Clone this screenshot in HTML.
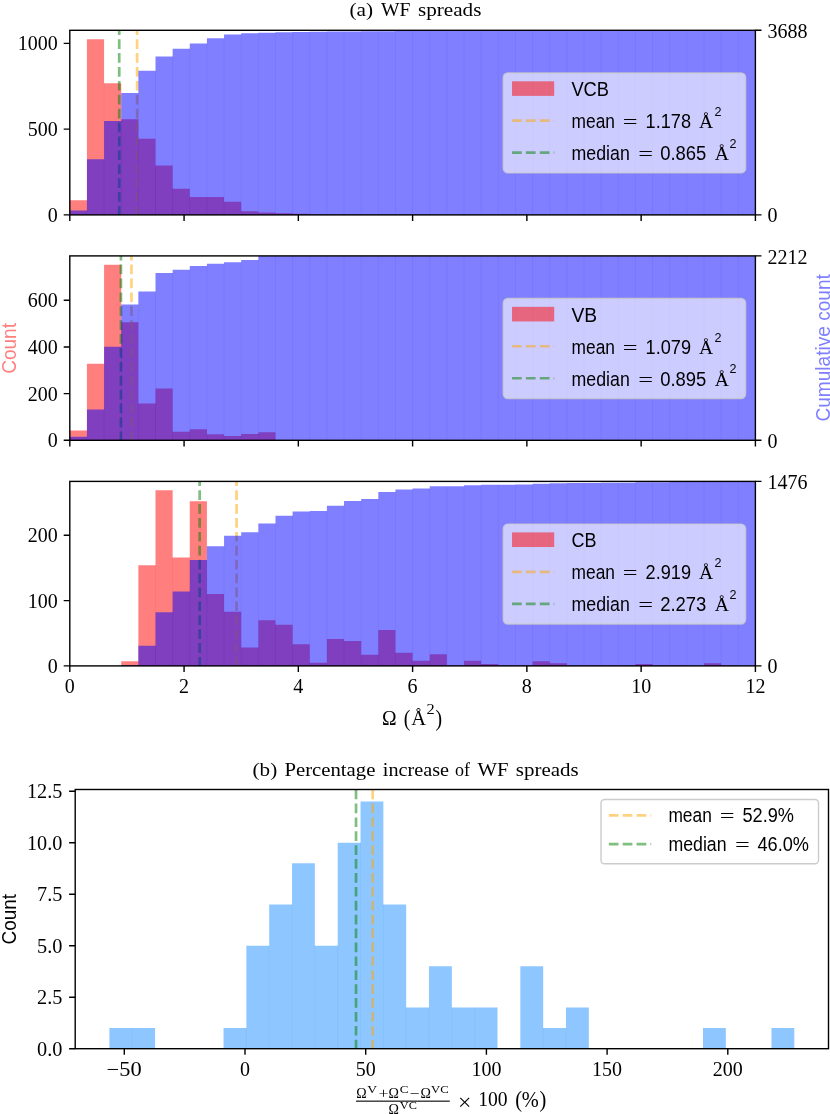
<!DOCTYPE html>
<html lang="en"><head><meta charset="utf-8"><title>WF spreads</title>
<style>html,body{margin:0;padding:0;background:#fff;}body{width:830px;height:1114px;overflow:hidden;}svg{display:block;}</style>
</head><body>
<svg width="830" height="1114" viewBox="0 0 830 1114">
<rect width="830" height="1114" fill="#fff"/>
<g>
<path d="M69.8 214.9V200.15H86.94V39.22H104.08V83.14H121.22V119.34H138.36V138.73H155.5V165.49H172.64V188.65H189.78V197.06H206.92V197.06H224.06V201.69H241.2V211.13H258.34V212.5H275.48V213.36H292.62V213.87H309.76V214.21H326.9V214.39H344.04V214.39H361.18V214.56H378.32V214.56H395.46V214.56H412.6V214.56H429.74V214.73H446.88V214.73H464.02V214.73H481.16V214.73H498.3V214.73H515.44V214.73H532.58V214.73H549.72V214.73H566.86V214.73H584V214.73H601.14V214.73H618.28V214.73H635.42V214.9H652.56V214.73H669.7V214.9H686.84V214.9H703.98V214.73H721.12V214.9H738.26V214.9H755.4V214.9Z" fill="#f00" fill-opacity="0.5"/>
<path d="M86.94 214.9V200.15M104.08 214.9V83.14M121.22 214.9V119.34M138.36 214.9V138.73M155.5 214.9V165.49M172.64 214.9V188.65M189.78 214.9V197.06M206.92 214.9V197.06M224.06 214.9V201.69M241.2 214.9V211.13M258.34 214.9V212.5M275.48 214.9V213.36M292.62 214.9V213.87M309.76 214.9V214.21M326.9 214.9V214.39M344.04 214.9V214.39M361.18 214.9V214.56M378.32 214.9V214.56M395.46 214.9V214.56M412.6 214.9V214.56M429.74 214.9V214.73M446.88 214.9V214.73M464.02 214.9V214.73M481.16 214.9V214.73M498.3 214.9V214.73M515.44 214.9V214.73M532.58 214.9V214.73M549.72 214.9V214.73M566.86 214.9V214.73M584 214.9V214.73M601.14 214.9V214.73M618.28 214.9V214.73" stroke="#c00" stroke-opacity="0.06" stroke-width="1" fill="none"/>
<line x1="137.1" y1="214.9" x2="137.1" y2="30.3" stroke="#ffa500" stroke-opacity="0.5" stroke-width="2.7" stroke-dasharray="9.7 4.2" stroke-dashoffset="0.8"/>
<line x1="119.22" y1="214.9" x2="119.22" y2="30.3" stroke="#008000" stroke-opacity="0.5" stroke-width="2.7" stroke-dasharray="9.7 4.2" stroke-dashoffset="0.8"/>
<path d="M69.8 214.9V210.6H86.94V159.34H104.08V120.9H121.22V93.02H138.36V70.79H155.5V56.38H172.64V48.72H189.78V43.51H206.92V38.31H224.06V34.45H241.2V33.35H258.34V32.65H275.48V32.2H292.62V31.9H309.76V31.7H326.9V31.55H344.04V31.4H361.18V31.3H378.32V31.2H395.46V31.1H412.6V31H429.74V30.95H446.88V30.9H464.02V30.85H481.16V30.8H498.3V30.75H515.44V30.7H532.58V30.65H549.72V30.6H566.86V30.55H584V30.5H601.14V30.45H618.28V30.4H635.42V30.4H652.56V30.35H669.7V30.35H686.84V30.35H703.98V30.3H721.12V30.3H738.26V30.3H755.4V214.9Z" fill="#00f" fill-opacity="0.5"/>
<path d="M86.94 214.9V210.6M104.08 214.9V159.34M121.22 214.9V120.9M138.36 214.9V93.02M155.5 214.9V70.79M172.64 214.9V56.38M189.78 214.9V48.72M206.92 214.9V43.51M224.06 214.9V38.31M241.2 214.9V34.45M258.34 214.9V33.35M275.48 214.9V32.65M292.62 214.9V32.2M309.76 214.9V31.9M326.9 214.9V31.7M344.04 214.9V31.55M361.18 214.9V31.4M378.32 214.9V31.3M395.46 214.9V31.2M412.6 214.9V31.1M429.74 214.9V31M446.88 214.9V30.95M464.02 214.9V30.9M481.16 214.9V30.85M498.3 214.9V30.8M515.44 214.9V30.75M532.58 214.9V30.7M549.72 214.9V30.65M566.86 214.9V30.6M584 214.9V30.55M601.14 214.9V30.5M618.28 214.9V30.45M635.42 214.9V30.4M652.56 214.9V30.4M669.7 214.9V30.35M686.84 214.9V30.35M703.98 214.9V30.35M721.12 214.9V30.3M738.26 214.9V30.3" stroke="#00c" stroke-opacity="0.06" stroke-width="1" fill="none"/>
<rect x="69.8" y="30.3" width="685.6" height="184.6" fill="none" stroke="#000" stroke-width="1.4"/>
<path d="M69.8 214.9v6.1M184.07 214.9v6.1M298.33 214.9v6.1M412.6 214.9v6.1M526.87 214.9v6.1M641.13 214.9v6.1M755.4 214.9v6.1M69.8 214.9h-6.1M69.8 129.12h-6.1M69.8 43.34h-6.1M755.4 214.9h6.1M755.4 30.3h6.1" stroke="#000" stroke-width="1.4" fill="none"/>
<text x="57.7" y="222" font-family='"Liberation Serif", "DejaVu Serif", serif' font-size="20" text-anchor="end" textLength="10" lengthAdjust="spacingAndGlyphs">0</text>
<text x="57.7" y="136.22" font-family='"Liberation Serif", "DejaVu Serif", serif' font-size="20" text-anchor="end" textLength="30" lengthAdjust="spacingAndGlyphs">500</text>
<text x="57.7" y="50.44" font-family='"Liberation Serif", "DejaVu Serif", serif' font-size="20" text-anchor="end" textLength="40" lengthAdjust="spacingAndGlyphs">1000</text>
<text x="767.4" y="38.1" font-family='"Liberation Serif", "DejaVu Serif", serif' font-size="20" textLength="40" lengthAdjust="spacingAndGlyphs">3688</text>
<text x="767.4" y="222.2" font-family='"Liberation Serif", "DejaVu Serif", serif' font-size="20" textLength="10" lengthAdjust="spacingAndGlyphs">0</text>
<rect x="503.3" y="73" width="242.3" height="99.9" rx="4.5" ry="4.5" fill="#fff" fill-opacity="0.6" stroke="#ccc" stroke-opacity="0.8" stroke-width="1.4"/>
<rect x="512" y="81.3" width="42.2" height="14.6" fill="#f00" fill-opacity="0.5"/>
<line x1="512" y1="120.7" x2="554.2" y2="120.7" stroke="#ffa500" stroke-opacity="0.5" stroke-width="2.7" stroke-dasharray="9.7 4.2"/>
<line x1="512" y1="152.7" x2="554.2" y2="152.7" stroke="#008000" stroke-opacity="0.5" stroke-width="2.7" stroke-dasharray="9.7 4.2"/>
<text x="571.4" y="96" font-family='"Liberation Sans", "DejaVu Sans", sans-serif' font-size="19.3" textLength="37.6" lengthAdjust="spacingAndGlyphs">VCB</text>
<text x="571.6" y="128.2" font-family='"Liberation Sans", "DejaVu Sans", sans-serif' font-size="19.3" textLength="43.4" lengthAdjust="spacingAndGlyphs">mean</text>
<text x="622.8" y="128.2" font-family='"Liberation Serif", "DejaVu Serif", serif' font-size="19.4" textLength="14.8" lengthAdjust="spacingAndGlyphs">=</text>
<text x="645.6" y="128.2" font-family='"Liberation Sans", "DejaVu Sans", sans-serif' font-size="19.3" textLength="45.4" lengthAdjust="spacingAndGlyphs">1.178</text>
<text x="699" y="128.2" font-family='"Liberation Serif", "DejaVu Serif", serif' font-size="19.4" textLength="14.2" lengthAdjust="spacingAndGlyphs">Å</text>
<text x="714.4" y="116" font-family='"Liberation Sans", "DejaVu Sans", sans-serif' font-size="13.2" textLength="7" lengthAdjust="spacingAndGlyphs">2</text>
<text x="571.6" y="160" font-family='"Liberation Sans", "DejaVu Sans", sans-serif' font-size="19.3" textLength="58.2" lengthAdjust="spacingAndGlyphs">median</text>
<text x="638.2" y="160" font-family='"Liberation Serif", "DejaVu Serif", serif' font-size="19.4" textLength="14.8" lengthAdjust="spacingAndGlyphs">=</text>
<text x="660.2" y="160" font-family='"Liberation Sans", "DejaVu Sans", sans-serif' font-size="19.3" textLength="46.2" lengthAdjust="spacingAndGlyphs">0.865</text>
<text x="714.8" y="160" font-family='"Liberation Serif", "DejaVu Serif", serif' font-size="19.4" textLength="14.2" lengthAdjust="spacingAndGlyphs">Å</text>
<text x="729.4" y="147.8" font-family='"Liberation Sans", "DejaVu Sans", sans-serif' font-size="13.2" textLength="7" lengthAdjust="spacingAndGlyphs">2</text>
</g>
<g>
<path d="M69.8 440.3V430.5H86.94V363.74H104.08V264.77H121.22V322.19H138.36V403.42H155.5V388.48H172.64V431.66H189.78V429.33H206.92V434.23H224.06V436.1H241.2V434H258.34V432.13H275.48V440.3H292.62V440.3H309.76V440.3H326.9V440.3H344.04V440.3H361.18V440.3H378.32V440.3H395.46V440.3H412.6V440.3H429.74V440.3H446.88V440.3H464.02V440.3H481.16V440.3H498.3V440.3H515.44V440.3H532.58V440.3H549.72V440.3H566.86V440.3H584V440.3H601.14V440.3H618.28V440.3H635.42V440.3H652.56V440.3H669.7V440.3H686.84V440.3H703.98V440.3H721.12V440.3H738.26V440.3H755.4V440.3Z" fill="#f00" fill-opacity="0.5"/>
<path d="M86.94 440.3V430.5M104.08 440.3V363.74M121.22 440.3V322.19M138.36 440.3V403.42M155.5 440.3V403.42M172.64 440.3V431.66M189.78 440.3V431.66M206.92 440.3V434.23M224.06 440.3V436.1M241.2 440.3V436.1M258.34 440.3V434" stroke="#c00" stroke-opacity="0.06" stroke-width="1" fill="none"/>
<line x1="131.45" y1="440.3" x2="131.45" y2="255.9" stroke="#ffa500" stroke-opacity="0.5" stroke-width="2.7" stroke-dasharray="9.7 4.2" stroke-dashoffset="0.8"/>
<line x1="120.93" y1="440.3" x2="120.93" y2="255.9" stroke="#008000" stroke-opacity="0.5" stroke-width="2.7" stroke-dasharray="9.7 4.2" stroke-dashoffset="0.8"/>
<path d="M69.8 440.3V436.8H86.94V409.46H104.08V346.77H121.22V304.58H138.36V291.41H155.5V272.91H172.64V269.82H189.78V265.9H206.92V263.74H224.06V262.24H241.2V259.98H258.34V255.9H275.48V255.9H292.62V255.9H309.76V255.9H326.9V255.9H344.04V255.9H361.18V255.9H378.32V255.9H395.46V255.9H412.6V255.9H429.74V255.9H446.88V255.9H464.02V255.9H481.16V255.9H498.3V255.9H515.44V255.9H532.58V255.9H549.72V255.9H566.86V255.9H584V255.9H601.14V255.9H618.28V255.9H635.42V255.9H652.56V255.9H669.7V255.9H686.84V255.9H703.98V255.9H721.12V255.9H738.26V255.9H755.4V440.3Z" fill="#00f" fill-opacity="0.5"/>
<path d="M86.94 440.3V436.8M104.08 440.3V409.46M121.22 440.3V346.77M138.36 440.3V304.58M155.5 440.3V291.41M172.64 440.3V272.91M189.78 440.3V269.82M206.92 440.3V265.9M224.06 440.3V263.74M241.2 440.3V262.24M258.34 440.3V259.98M275.48 440.3V255.9M292.62 440.3V255.9M309.76 440.3V255.9M326.9 440.3V255.9M344.04 440.3V255.9M361.18 440.3V255.9M378.32 440.3V255.9M395.46 440.3V255.9M412.6 440.3V255.9M429.74 440.3V255.9M446.88 440.3V255.9M464.02 440.3V255.9M481.16 440.3V255.9M498.3 440.3V255.9M515.44 440.3V255.9M532.58 440.3V255.9M549.72 440.3V255.9M566.86 440.3V255.9M584 440.3V255.9M601.14 440.3V255.9M618.28 440.3V255.9M635.42 440.3V255.9M652.56 440.3V255.9M669.7 440.3V255.9M686.84 440.3V255.9M703.98 440.3V255.9M721.12 440.3V255.9M738.26 440.3V255.9" stroke="#00c" stroke-opacity="0.06" stroke-width="1" fill="none"/>
<rect x="69.8" y="255.9" width="685.6" height="184.4" fill="none" stroke="#000" stroke-width="1.4"/>
<path d="M69.8 440.3v6.1M184.07 440.3v6.1M298.33 440.3v6.1M412.6 440.3v6.1M526.87 440.3v6.1M641.13 440.3v6.1M755.4 440.3v6.1M69.8 440.3h-6.1M69.8 393.62h-6.1M69.8 346.93h-6.1M69.8 300.25h-6.1M755.4 440.3h6.1M755.4 255.9h6.1" stroke="#000" stroke-width="1.4" fill="none"/>
<text x="57.7" y="447.4" font-family='"Liberation Serif", "DejaVu Serif", serif' font-size="20" text-anchor="end" textLength="10" lengthAdjust="spacingAndGlyphs">0</text>
<text x="57.7" y="400.72" font-family='"Liberation Serif", "DejaVu Serif", serif' font-size="20" text-anchor="end" textLength="30" lengthAdjust="spacingAndGlyphs">200</text>
<text x="57.7" y="354.03" font-family='"Liberation Serif", "DejaVu Serif", serif' font-size="20" text-anchor="end" textLength="30" lengthAdjust="spacingAndGlyphs">400</text>
<text x="57.7" y="307.35" font-family='"Liberation Serif", "DejaVu Serif", serif' font-size="20" text-anchor="end" textLength="30" lengthAdjust="spacingAndGlyphs">600</text>
<text x="767.4" y="263.7" font-family='"Liberation Serif", "DejaVu Serif", serif' font-size="20" textLength="40" lengthAdjust="spacingAndGlyphs">2212</text>
<text x="767.4" y="447.6" font-family='"Liberation Serif", "DejaVu Serif", serif' font-size="20" textLength="10" lengthAdjust="spacingAndGlyphs">0</text>
<rect x="503.3" y="298.55" width="242.3" height="99.9" rx="4.5" ry="4.5" fill="#fff" fill-opacity="0.6" stroke="#ccc" stroke-opacity="0.8" stroke-width="1.4"/>
<rect x="512" y="306.85" width="42.2" height="14.6" fill="#f00" fill-opacity="0.5"/>
<line x1="512" y1="346.25" x2="554.2" y2="346.25" stroke="#ffa500" stroke-opacity="0.5" stroke-width="2.7" stroke-dasharray="9.7 4.2"/>
<line x1="512" y1="378.25" x2="554.2" y2="378.25" stroke="#008000" stroke-opacity="0.5" stroke-width="2.7" stroke-dasharray="9.7 4.2"/>
<text x="571.4" y="321.55" font-family='"Liberation Sans", "DejaVu Sans", sans-serif' font-size="19.3" textLength="25.6" lengthAdjust="spacingAndGlyphs">VB</text>
<text x="571.6" y="353.75" font-family='"Liberation Sans", "DejaVu Sans", sans-serif' font-size="19.3" textLength="43.4" lengthAdjust="spacingAndGlyphs">mean</text>
<text x="622.8" y="353.75" font-family='"Liberation Serif", "DejaVu Serif", serif' font-size="19.4" textLength="14.8" lengthAdjust="spacingAndGlyphs">=</text>
<text x="645.6" y="353.75" font-family='"Liberation Sans", "DejaVu Sans", sans-serif' font-size="19.3" textLength="45.4" lengthAdjust="spacingAndGlyphs">1.079</text>
<text x="699" y="353.75" font-family='"Liberation Serif", "DejaVu Serif", serif' font-size="19.4" textLength="14.2" lengthAdjust="spacingAndGlyphs">Å</text>
<text x="714.4" y="341.55" font-family='"Liberation Sans", "DejaVu Sans", sans-serif' font-size="13.2" textLength="7" lengthAdjust="spacingAndGlyphs">2</text>
<text x="571.6" y="385.55" font-family='"Liberation Sans", "DejaVu Sans", sans-serif' font-size="19.3" textLength="58.2" lengthAdjust="spacingAndGlyphs">median</text>
<text x="638.2" y="385.55" font-family='"Liberation Serif", "DejaVu Serif", serif' font-size="19.4" textLength="14.8" lengthAdjust="spacingAndGlyphs">=</text>
<text x="660.2" y="385.55" font-family='"Liberation Sans", "DejaVu Sans", sans-serif' font-size="19.3" textLength="46.2" lengthAdjust="spacingAndGlyphs">0.895</text>
<text x="714.8" y="385.55" font-family='"Liberation Serif", "DejaVu Serif", serif' font-size="19.4" textLength="14.2" lengthAdjust="spacingAndGlyphs">Å</text>
<text x="729.4" y="373.35" font-family='"Liberation Sans", "DejaVu Sans", sans-serif' font-size="13.2" textLength="7" lengthAdjust="spacingAndGlyphs">2</text>
</g>
<g>
<path d="M69.8 665.9V665.9H86.94V665.9H104.08V665.9H121.22V661.33H138.36V565.32H155.5V490.22H172.64V557.49H189.78V501.32H206.92V594.06H224.06V611.69H241.2V647.61H258.34V620.18H275.48V624.75H292.62V644.35H309.76V662.63H326.9V639.12H344.04V641.08H361.18V654.8H378.32V629.98H395.46V652.84H412.6V660.68H429.74V654.14H446.88V665.25H464.02V660.68H481.16V663.94H498.3V665.25H515.44V665.25H532.58V661.33H549.72V663.29H566.86V665.25H584V665.25H601.14V665.25H618.28V665.25H635.42V663.94H652.56V665.25H669.7V665.25H686.84V665.9H703.98V663.29H721.12V665.25H738.26V665.9H755.4V665.9Z" fill="#f00" fill-opacity="0.5"/>
<path d="M138.36 665.9V661.33M155.5 665.9V565.32M172.64 665.9V557.49M189.78 665.9V557.49M206.92 665.9V594.06M224.06 665.9V611.69M241.2 665.9V647.61M258.34 665.9V647.61M275.48 665.9V624.75M292.62 665.9V644.35M309.76 665.9V662.63M326.9 665.9V662.63M344.04 665.9V641.08M361.18 665.9V654.8M378.32 665.9V654.8M395.46 665.9V652.84M412.6 665.9V660.68M429.74 665.9V660.68M446.88 665.9V665.25M464.02 665.9V665.25M481.16 665.9V663.94M498.3 665.9V665.25M515.44 665.9V665.25M532.58 665.9V665.25M549.72 665.9V663.29M566.86 665.9V665.25M584 665.9V665.25M601.14 665.9V665.25M618.28 665.9V665.25M635.42 665.9V665.25M652.56 665.9V665.25M669.7 665.9V665.25M721.12 665.9V665.25" stroke="#c00" stroke-opacity="0.06" stroke-width="1" fill="none"/>
<line x1="236.57" y1="665.9" x2="236.57" y2="481.4" stroke="#ffa500" stroke-opacity="0.5" stroke-width="2.7" stroke-dasharray="9.7 4.2" stroke-dashoffset="0.8"/>
<line x1="199.66" y1="665.9" x2="199.66" y2="481.4" stroke="#008000" stroke-opacity="0.5" stroke-width="2.7" stroke-dasharray="9.7 4.2" stroke-dashoffset="0.8"/>
<path d="M69.8 665.9V665.9H86.94V665.9H104.08V665.9H121.22V665.02H138.36V645.77H155.5V612.15H172.64V591.4H189.78V559.9H206.92V546.15H224.06V535.77H241.2V532.27H258.34V523.52H275.48V515.65H292.62V511.52H309.76V510.9H326.9V505.77H344.04V501.02H361.18V498.9H378.32V492.02H395.46V489.52H412.6V488.52H429.74V486.27H446.88V486.15H464.02V485.15H481.16V484.77H498.3V484.65H515.44V484.52H532.58V483.65H549.72V483.15H566.86V483.02H584V482.9H601.14V482.77H618.28V482.65H635.42V482.27H652.56V482.15H669.7V482.02H686.84V482.02H703.98V481.52H721.12V481.4H738.26V481.4H755.4V665.9Z" fill="#00f" fill-opacity="0.5"/>
<path d="M138.36 665.9V665.02M155.5 665.9V645.77M172.64 665.9V612.15M189.78 665.9V591.4M206.92 665.9V559.9M224.06 665.9V546.15M241.2 665.9V535.77M258.34 665.9V532.27M275.48 665.9V523.52M292.62 665.9V515.65M309.76 665.9V511.52M326.9 665.9V510.9M344.04 665.9V505.77M361.18 665.9V501.02M378.32 665.9V498.9M395.46 665.9V492.02M412.6 665.9V489.52M429.74 665.9V488.52M446.88 665.9V486.27M464.02 665.9V486.15M481.16 665.9V485.15M498.3 665.9V484.77M515.44 665.9V484.65M532.58 665.9V484.52M549.72 665.9V483.65M566.86 665.9V483.15M584 665.9V483.02M601.14 665.9V482.9M618.28 665.9V482.77M635.42 665.9V482.65M652.56 665.9V482.27M669.7 665.9V482.15M686.84 665.9V482.02M703.98 665.9V482.02M721.12 665.9V481.52M738.26 665.9V481.4" stroke="#00c" stroke-opacity="0.06" stroke-width="1" fill="none"/>
<rect x="69.8" y="481.4" width="685.6" height="184.5" fill="none" stroke="#000" stroke-width="1.4"/>
<path d="M69.8 665.9v6.1M184.07 665.9v6.1M298.33 665.9v6.1M412.6 665.9v6.1M526.87 665.9v6.1M641.13 665.9v6.1M755.4 665.9v6.1M69.8 665.9h-6.1M69.8 600.59h-6.1M69.8 535.28h-6.1M755.4 665.9h6.1M755.4 481.4h6.1" stroke="#000" stroke-width="1.4" fill="none"/>
<text x="57.7" y="673" font-family='"Liberation Serif", "DejaVu Serif", serif' font-size="20" text-anchor="end" textLength="10" lengthAdjust="spacingAndGlyphs">0</text>
<text x="57.7" y="607.69" font-family='"Liberation Serif", "DejaVu Serif", serif' font-size="20" text-anchor="end" textLength="30" lengthAdjust="spacingAndGlyphs">100</text>
<text x="57.7" y="542.38" font-family='"Liberation Serif", "DejaVu Serif", serif' font-size="20" text-anchor="end" textLength="30" lengthAdjust="spacingAndGlyphs">200</text>
<text x="767.4" y="489.2" font-family='"Liberation Serif", "DejaVu Serif", serif' font-size="20" textLength="40" lengthAdjust="spacingAndGlyphs">1476</text>
<text x="767.4" y="673.2" font-family='"Liberation Serif", "DejaVu Serif", serif' font-size="20" textLength="10" lengthAdjust="spacingAndGlyphs">0</text>
<rect x="503.3" y="524.1" width="242.3" height="99.9" rx="4.5" ry="4.5" fill="#fff" fill-opacity="0.6" stroke="#ccc" stroke-opacity="0.8" stroke-width="1.4"/>
<rect x="512" y="532.4" width="42.2" height="14.6" fill="#f00" fill-opacity="0.5"/>
<line x1="512" y1="571.8" x2="554.2" y2="571.8" stroke="#ffa500" stroke-opacity="0.5" stroke-width="2.7" stroke-dasharray="9.7 4.2"/>
<line x1="512" y1="603.8" x2="554.2" y2="603.8" stroke="#008000" stroke-opacity="0.5" stroke-width="2.7" stroke-dasharray="9.7 4.2"/>
<text x="571.4" y="547.1" font-family='"Liberation Sans", "DejaVu Sans", sans-serif' font-size="19.3" textLength="25" lengthAdjust="spacingAndGlyphs">CB</text>
<text x="571.6" y="579.3" font-family='"Liberation Sans", "DejaVu Sans", sans-serif' font-size="19.3" textLength="43.4" lengthAdjust="spacingAndGlyphs">mean</text>
<text x="622.8" y="579.3" font-family='"Liberation Serif", "DejaVu Serif", serif' font-size="19.4" textLength="14.8" lengthAdjust="spacingAndGlyphs">=</text>
<text x="645.6" y="579.3" font-family='"Liberation Sans", "DejaVu Sans", sans-serif' font-size="19.3" textLength="45.4" lengthAdjust="spacingAndGlyphs">2.919</text>
<text x="699" y="579.3" font-family='"Liberation Serif", "DejaVu Serif", serif' font-size="19.4" textLength="14.2" lengthAdjust="spacingAndGlyphs">Å</text>
<text x="714.4" y="567.1" font-family='"Liberation Sans", "DejaVu Sans", sans-serif' font-size="13.2" textLength="7" lengthAdjust="spacingAndGlyphs">2</text>
<text x="571.6" y="611.1" font-family='"Liberation Sans", "DejaVu Sans", sans-serif' font-size="19.3" textLength="58.2" lengthAdjust="spacingAndGlyphs">median</text>
<text x="638.2" y="611.1" font-family='"Liberation Serif", "DejaVu Serif", serif' font-size="19.4" textLength="14.8" lengthAdjust="spacingAndGlyphs">=</text>
<text x="660.2" y="611.1" font-family='"Liberation Sans", "DejaVu Sans", sans-serif' font-size="19.3" textLength="46.2" lengthAdjust="spacingAndGlyphs">2.273</text>
<text x="714.8" y="611.1" font-family='"Liberation Serif", "DejaVu Serif", serif' font-size="19.4" textLength="14.2" lengthAdjust="spacingAndGlyphs">Å</text>
<text x="729.4" y="598.9" font-family='"Liberation Sans", "DejaVu Sans", sans-serif' font-size="13.2" textLength="7" lengthAdjust="spacingAndGlyphs">2</text>
</g>
<text x="69.8" y="693.1" font-family='"Liberation Serif", "DejaVu Serif", serif' font-size="20" text-anchor="middle" textLength="10" lengthAdjust="spacingAndGlyphs">0</text>
<text x="184.07" y="693.1" font-family='"Liberation Serif", "DejaVu Serif", serif' font-size="20" text-anchor="middle" textLength="10" lengthAdjust="spacingAndGlyphs">2</text>
<text x="298.33" y="693.1" font-family='"Liberation Serif", "DejaVu Serif", serif' font-size="20" text-anchor="middle" textLength="10" lengthAdjust="spacingAndGlyphs">4</text>
<text x="412.6" y="693.1" font-family='"Liberation Serif", "DejaVu Serif", serif' font-size="20" text-anchor="middle" textLength="10" lengthAdjust="spacingAndGlyphs">6</text>
<text x="526.87" y="693.1" font-family='"Liberation Serif", "DejaVu Serif", serif' font-size="20" text-anchor="middle" textLength="10" lengthAdjust="spacingAndGlyphs">8</text>
<text x="641.13" y="693.1" font-family='"Liberation Serif", "DejaVu Serif", serif' font-size="20" text-anchor="middle" textLength="20" lengthAdjust="spacingAndGlyphs">10</text>
<text x="755.4" y="693.1" font-family='"Liberation Serif", "DejaVu Serif", serif' font-size="20" text-anchor="middle" textLength="20" lengthAdjust="spacingAndGlyphs">12</text>
<text x="382" y="725.2" font-family='"Liberation Serif", "DejaVu Serif", serif' font-size="20.6" textLength="14.6" lengthAdjust="spacingAndGlyphs">Ω</text>
<text x="403.8" y="726.3" font-family='"Liberation Serif", "DejaVu Serif", serif' font-size="23.0" textLength="6.6" lengthAdjust="spacingAndGlyphs">(</text>
<text x="411.3" y="725.2" font-family='"Liberation Serif", "DejaVu Serif", serif' font-size="20.2" textLength="14.8" lengthAdjust="spacingAndGlyphs">Å</text>
<text x="426.6" y="713.6" font-family='"Liberation Serif", "DejaVu Serif", serif' font-size="13.6" textLength="8.2" lengthAdjust="spacingAndGlyphs">2</text>
<text x="435.6" y="726.3" font-family='"Liberation Serif", "DejaVu Serif", serif' font-size="23.0" textLength="6.6" lengthAdjust="spacingAndGlyphs">)</text>
<text x="349.4" y="15.8" font-family='"Liberation Serif", "DejaVu Serif", serif' font-size="19.8" textLength="23.6" lengthAdjust="spacingAndGlyphs">(a)</text>
<text x="380.9" y="15.8" font-family='"Liberation Serif", "DejaVu Serif", serif' font-size="19.8" textLength="29.4" lengthAdjust="spacingAndGlyphs">WF</text>
<text x="418" y="15.8" font-family='"Liberation Serif", "DejaVu Serif", serif' font-size="19.8" textLength="63.4" lengthAdjust="spacingAndGlyphs">spreads</text>
<text x="252.6" y="776.1" font-family='"Liberation Serif", "DejaVu Serif", serif' font-size="19.8" textLength="24.6" lengthAdjust="spacingAndGlyphs">(b)</text>
<text x="284.4" y="776.1" font-family='"Liberation Serif", "DejaVu Serif", serif' font-size="19.8" textLength="91" lengthAdjust="spacingAndGlyphs">Percentage</text>
<text x="382.8" y="776.1" font-family='"Liberation Serif", "DejaVu Serif", serif' font-size="19.8" textLength="66.2" lengthAdjust="spacingAndGlyphs">increase</text>
<text x="455" y="776.1" font-family='"Liberation Serif", "DejaVu Serif", serif' font-size="19.8" textLength="15" lengthAdjust="spacingAndGlyphs">of</text>
<text x="477.6" y="776.1" font-family='"Liberation Serif", "DejaVu Serif", serif' font-size="19.8" textLength="31" lengthAdjust="spacingAndGlyphs">WF</text>
<text x="515.8" y="776.1" font-family='"Liberation Serif", "DejaVu Serif", serif' font-size="19.8" textLength="62.8" lengthAdjust="spacingAndGlyphs">spreads</text>
<g transform="translate(16.3 348.4) rotate(-90)">
<text x="0" y="0" font-family='"Liberation Sans", "DejaVu Sans", sans-serif' font-size="19.6" text-anchor="middle" fill="#ff7f7f" textLength="50.8" lengthAdjust="spacingAndGlyphs">Count</text>
</g>
<g transform="translate(829.8 347.9) rotate(-90)">
<text x="0" y="0" font-family='"Liberation Sans", "DejaVu Sans", sans-serif' font-size="19.6" text-anchor="middle" fill="#7f7fff" textLength="147.4" lengthAdjust="spacingAndGlyphs">Cumulative count</text>
</g>
<g>
<path d="M109.4 1048.7V1028.11H132.23V1028.11H155.06V1048.7H177.89V1048.7H200.72V1048.7H223.55V1028.11H246.38V945.74H269.21V904.56H292.04V863.37H314.87V945.74H337.7V842.78H360.53V801.6H383.36V904.56H406.19V1007.52H429.02V966.33H451.85V1007.52H474.68V1007.52H497.51V1048.7H520.34V966.33H543.17V1028.11H566V1007.52H588.83V1048.7H611.66V1048.7H634.49V1048.7H657.32V1048.7H680.15V1048.7H702.98V1028.11H725.81V1048.7H748.64V1048.7H771.47V1028.11H794.3V1048.7Z" fill="#1e90ff" fill-opacity="0.5"/>
<path d="M132.23 1048.7V1028.11M246.38 1048.7V1028.11M269.21 1048.7V945.74M292.04 1048.7V904.56M314.87 1048.7V945.74M337.7 1048.7V945.74M360.53 1048.7V842.78M383.36 1048.7V904.56M406.19 1048.7V1007.52M429.02 1048.7V1007.52M451.85 1048.7V1007.52M474.68 1048.7V1007.52M543.17 1048.7V1028.11M566 1048.7V1028.11" stroke="#1e90ff" stroke-opacity="0.10" stroke-width="1" fill="none"/>
<line x1="372.7" y1="1048.7" x2="372.7" y2="789.5" stroke="#ffa500" stroke-opacity="0.5" stroke-width="2.7" stroke-dasharray="9.7 4.2" stroke-dashoffset="0.8"/>
<line x1="356.04" y1="1048.7" x2="356.04" y2="789.5" stroke="#008000" stroke-opacity="0.5" stroke-width="2.7" stroke-dasharray="9.7 4.2" stroke-dashoffset="0.8"/>
<rect x="75.2" y="789.5" width="753.3" height="259.2" fill="none" stroke="#000" stroke-width="1.4"/>
<path d="M124.3 1048.7v6.1M245 1048.7v6.1M365.7 1048.7v6.1M486.4 1048.7v6.1M607.1 1048.7v6.1M727.8 1048.7v6.1M75.2 1048.7h-6.1M75.2 997.22h-6.1M75.2 945.74h-6.1M75.2 894.26h-6.1M75.2 842.78h-6.1M75.2 791.3h-6.1" stroke="#000" stroke-width="1.4" fill="none"/>
<text x="62.4" y="1055.8" font-family='"Liberation Serif", "DejaVu Serif", serif' font-size="20" text-anchor="end" textLength="25.4" lengthAdjust="spacingAndGlyphs">0.0</text>
<text x="62.4" y="1004.32" font-family='"Liberation Serif", "DejaVu Serif", serif' font-size="20" text-anchor="end" textLength="25.4" lengthAdjust="spacingAndGlyphs">2.5</text>
<text x="62.4" y="952.84" font-family='"Liberation Serif", "DejaVu Serif", serif' font-size="20" text-anchor="end" textLength="25.4" lengthAdjust="spacingAndGlyphs">5.0</text>
<text x="62.4" y="901.36" font-family='"Liberation Serif", "DejaVu Serif", serif' font-size="20" text-anchor="end" textLength="25.4" lengthAdjust="spacingAndGlyphs">7.5</text>
<text x="62.4" y="849.88" font-family='"Liberation Serif", "DejaVu Serif", serif' font-size="20" text-anchor="end" textLength="35.4" lengthAdjust="spacingAndGlyphs">10.0</text>
<text x="62.4" y="798.4" font-family='"Liberation Serif", "DejaVu Serif", serif' font-size="20" text-anchor="end" textLength="35.4" lengthAdjust="spacingAndGlyphs">12.5</text>
<text x="124.1" y="1075.7" font-family='"Liberation Serif", "DejaVu Serif", serif' font-size="20" text-anchor="middle" textLength="35.1" lengthAdjust="spacingAndGlyphs">−50</text>
<text x="245" y="1075.7" font-family='"Liberation Serif", "DejaVu Serif", serif' font-size="20" text-anchor="middle" textLength="10" lengthAdjust="spacingAndGlyphs">0</text>
<text x="365.7" y="1075.7" font-family='"Liberation Serif", "DejaVu Serif", serif' font-size="20" text-anchor="middle" textLength="20" lengthAdjust="spacingAndGlyphs">50</text>
<text x="486.4" y="1075.7" font-family='"Liberation Serif", "DejaVu Serif", serif' font-size="20" text-anchor="middle" textLength="30" lengthAdjust="spacingAndGlyphs">100</text>
<text x="607.1" y="1075.7" font-family='"Liberation Serif", "DejaVu Serif", serif' font-size="20" text-anchor="middle" textLength="30" lengthAdjust="spacingAndGlyphs">150</text>
<text x="727.8" y="1075.7" font-family='"Liberation Serif", "DejaVu Serif", serif' font-size="20" text-anchor="middle" textLength="30" lengthAdjust="spacingAndGlyphs">200</text>
<g transform="translate(16.3 919.3) rotate(-90)">
<text x="0" y="0" font-family='"Liberation Sans", "DejaVu Sans", sans-serif' font-size="19.6" text-anchor="middle" textLength="50.4" lengthAdjust="spacingAndGlyphs">Count</text>
</g>
<rect x="601" y="799.5" width="217.5" height="64.2" rx="3.5" ry="3.5" fill="#fff" fill-opacity="0.8" stroke="#ccc" stroke-width="1.4"/>
<line x1="608.8" y1="815.4" x2="651.2" y2="815.4" stroke="#ffa500" stroke-opacity="0.5" stroke-width="2.7" stroke-dasharray="9.7 4.2"/>
<line x1="608.8" y1="844.2" x2="651.2" y2="844.2" stroke="#008000" stroke-opacity="0.5" stroke-width="2.7" stroke-dasharray="9.7 4.2"/>
<text x="668.4" y="822.4" font-family='"Liberation Sans", "DejaVu Sans", sans-serif' font-size="19.3" textLength="43.4" lengthAdjust="spacingAndGlyphs">mean</text>
<text x="719.8" y="822.4" font-family='"Liberation Serif", "DejaVu Serif", serif' font-size="19.4" textLength="14.8" lengthAdjust="spacingAndGlyphs">=</text>
<text x="742.4" y="822.4" font-family='"Liberation Sans", "DejaVu Sans", sans-serif' font-size="19.3" textLength="51.6" lengthAdjust="spacingAndGlyphs">52.9%</text>
<text x="668.4" y="851.3" font-family='"Liberation Sans", "DejaVu Sans", sans-serif' font-size="19.3" textLength="58.2" lengthAdjust="spacingAndGlyphs">median</text>
<text x="735" y="851.3" font-family='"Liberation Serif", "DejaVu Serif", serif' font-size="19.4" textLength="14.8" lengthAdjust="spacingAndGlyphs">=</text>
<text x="757.4" y="851.3" font-family='"Liberation Sans", "DejaVu Sans", sans-serif' font-size="19.3" textLength="51.6" lengthAdjust="spacingAndGlyphs">46.0%</text>
<text x="356.3" y="1097.5" font-family='"Liberation Serif", "DejaVu Serif", serif' font-size="14.2" textLength="10.4" lengthAdjust="spacingAndGlyphs">Ω</text>
<text x="367.2" y="1093" font-family='"Liberation Serif", "DejaVu Serif", serif' font-size="9.9" textLength="9.8" lengthAdjust="spacingAndGlyphs">V</text>
<text x="378.4" y="1097.5" font-family='"Liberation Serif", "DejaVu Serif", serif' font-size="14.2" textLength="10" lengthAdjust="spacingAndGlyphs">+</text>
<text x="388.5" y="1097.5" font-family='"Liberation Serif", "DejaVu Serif", serif' font-size="14.2" textLength="10.4" lengthAdjust="spacingAndGlyphs">Ω</text>
<text x="399.8" y="1093" font-family='"Liberation Serif", "DejaVu Serif", serif' font-size="9.9" textLength="8.8" lengthAdjust="spacingAndGlyphs">C</text>
<text x="409.5" y="1097.5" font-family='"Liberation Serif", "DejaVu Serif", serif' font-size="14.2" textLength="9.8" lengthAdjust="spacingAndGlyphs">−</text>
<text x="420.4" y="1097.5" font-family='"Liberation Serif", "DejaVu Serif", serif' font-size="14.2" textLength="10.4" lengthAdjust="spacingAndGlyphs">Ω</text>
<text x="431.1" y="1093" font-family='"Liberation Serif", "DejaVu Serif", serif' font-size="9.9" textLength="17.6" lengthAdjust="spacingAndGlyphs">VC</text>
<rect x="356" y="1100.6" width="93.8" height="1.1" fill="#000"/>
<text x="388.5" y="1113.8" font-family='"Liberation Serif", "DejaVu Serif", serif' font-size="14.2" textLength="10.4" lengthAdjust="spacingAndGlyphs">Ω</text>
<text x="399.8" y="1109.3" font-family='"Liberation Serif", "DejaVu Serif", serif' font-size="9.9" textLength="17" lengthAdjust="spacingAndGlyphs">VC</text>
<text x="458" y="1109.6" font-family='"Liberation Serif", "DejaVu Serif", serif' font-size="23.5" textLength="13.4" lengthAdjust="spacingAndGlyphs">×</text>
<text x="478.2" y="1106.1" font-family='"Liberation Serif", "DejaVu Serif", serif' font-size="20" textLength="29.4" lengthAdjust="spacingAndGlyphs">100</text>
<text x="515.2" y="1107" font-family='"Liberation Serif", "DejaVu Serif", serif' font-size="23.5" textLength="6.8" lengthAdjust="spacingAndGlyphs">(</text>
<text x="521.8" y="1107" font-family='"Liberation Serif", "DejaVu Serif", serif' font-size="23.0" textLength="17" lengthAdjust="spacingAndGlyphs">%</text>
<text x="539.6" y="1107" font-family='"Liberation Serif", "DejaVu Serif", serif' font-size="23.5" textLength="6.8" lengthAdjust="spacingAndGlyphs">)</text>
</g>
</svg>
</body></html>
